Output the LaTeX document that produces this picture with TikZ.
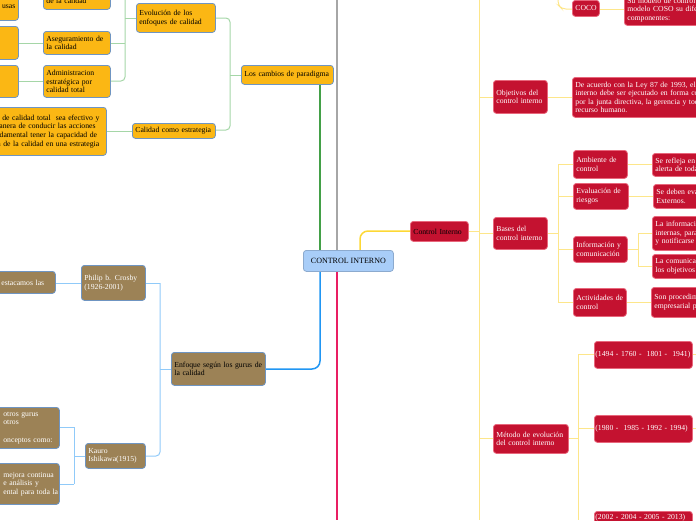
\documentclass[tikz,border=0pt]{standalone}
\usepackage{fontspec}
\setmainfont{Liberation Serif}
\definecolor{crim}{HTML}{C41230}
\definecolor{crimb}{HTML}{E8677C}
\definecolor{orng}{HTML}{FBB714}
\definecolor{brwn}{HTML}{9C8256}
\definecolor{bord}{HTML}{6F95C2}
\definecolor{lblue}{HTML}{A8CDF8}
\definecolor{ylw}{HTML}{FDE68A}
\definecolor{ylwd}{HTML}{FDD835}
\definecolor{lgrn}{HTML}{A5D6A7}
\definecolor{dgrn}{HTML}{43A047}
\definecolor{lbl}{HTML}{90CAF9}
\definecolor{mbl}{HTML}{2196F3}
\definecolor{pnk}{HTML}{E91E63}
\tikzset{
 bx/.style={rounded corners=3pt, anchor=north west, inner sep=3pt, align=left, font=\fontsize{7.7}{8.6}\selectfont, line width=0.8pt},
 red/.style={bx, fill=crim, draw=crimb, text=white},
 org/.style={bx, fill=orng, draw=bord, text=black},
 brn/.style={bx, fill=brwn, draw=bord, text=black},
 brw/.style={bx, fill=brwn, draw=bord, text=white},
 yl/.style={draw=ylw, line width=1pt, rounded corners=4pt},
 gl/.style={draw=lgrn, line width=1pt, rounded corners=4pt},
 bl/.style={draw=lbl, line width=1pt, rounded corners=4pt},
}
\newcommand{\bx}[7]{\node[#2, text width=#5pt, minimum height=#6pt] (#1) at (#3,#4) {#7};}
\begin{document}
\hyphenpenalty=10000 \exhyphenpenalty=10000
\begin{tikzpicture}[x=1pt,y=-1pt]
\useasboundingbox (0,0) rectangle (696,520);
\clip (0,0) rectangle (696,520);
% trunks
\draw[line width=1.5pt, gray!70] (337,0) -- (337,251);
\draw[line width=1.5pt, dgrn] (320,84) -- (320,251);
\draw[line width=1.5pt, pnk] (337,270) -- (337,520);
\draw[line width=1.5pt, mbl, rounded corners=8pt] (320,270) -- (320,369) -- (265,369);
\draw[line width=1.5pt, ylwd, rounded corners=8pt] (360,251) -- (360,231) -- (410,231);
% right branch lines
\draw[yl] (468,231) -- (479,231);
\draw[yl] (479,0) -- (479,520);
\draw[yl] (479,97) -- (493,97);
\draw[yl] (479,233) -- (493,233);
\draw[yl] (479,438) -- (493,438);
\draw[yl] (558,-20) -- (558,5) -- (562,9) -- (572,9);
\draw[yl] (599,9) -- (624,9);
\draw[yl] (547,97) -- (572,97);
\draw[yl] (547,233) -- (558,233);
\draw[yl] (558,164) -- (558,302);
\foreach \y in {164,196,249,302} \draw[yl] (558,\y) -- (573,\y);
\draw[yl] (627,164) -- (652,164);
\draw[yl] (628,196) -- (653,196);
\draw[yl] (626,302) -- (651,302);
\draw[yl] (627,249) -- (638,249);
\draw[yl] (638,233) -- (638,266);
\draw[yl] (638,233) -- (652,233);
\draw[yl] (638,266) -- (652,266);
\draw[yl] (568,438) -- (578,438);
\draw[yl] (578,354) -- (578,520);
\draw[yl] (578,354) -- (594,354);
\draw[yl] (578,428) -- (594,428);
\draw[yl] (690,354) -- (696,354);
\draw[yl] (690,428) -- (696,428);
% left green
\draw[gl] (215,18) -- (230,18) -- (230,130) -- (215,130);
\draw[gl] (230,75) -- (241,75);
\draw[gl] (136,18) -- (125,18);
\draw[gl] (125,-10) -- (125,81) -- (110,81);
\draw[gl] (125,43) -- (110,43);
\draw[gl] (43,43) -- (18,43);
\draw[gl] (43,81) -- (18,81);
\draw[gl] (132,131) -- (106,131);
% left blue
\draw[bl] (171,369) -- (160,369);
\draw[bl] (160,283) -- (145,283);
\draw[bl] (160,283) -- (160,456) -- (145,456);
\draw[bl] (81,283) -- (55,283);
\draw[bl] (85,456) -- (74,456);
\draw[bl] (74,427) -- (74,484);
\draw[bl] (74,427) -- (59,427);
\draw[bl] (74,484) -- (59,484);
% center
\node[bx, fill=lblue, draw=bord!80, text=black, minimum width=90pt, minimum height=21pt, align=center, font=\fontsize{8}{9}\selectfont] (root) at (303,250) {CONTROL INTERNO};
\bx{ci}{red,text=black}{410}{221}{52}{20}{Control Interno}
\bx{obj}{red}{493}{80}{48}{33}{Objetivos del control interno}
\bx{ley}{red}{572}{77}{190}{40}{De acuerdo con la Ley 87 de 1993, el control\\interno debe ser ejecutado en forma conjunta\\por la junta directiva, la gerencia y todo el\\recurso humano.}
\bx{coco}{red}{572}{0}{21}{16}{COCO}
\bx{cocot}{red}{624}{-6}{140}{31}{Su modelo de control interno\\modelo COSO su diferentes\\componentes:}
\bx{bases}{red}{493}{217}{48}{32}{Bases del control interno}
\bx{amb}{red}{573}{150}{48}{28}{Ambiente de control}
\bx{ambt}{red}{652}{153}{120}{23}{Se refleja en la actitud\\alerta de toda la entidad}
\bx{eval}{red}{573}{183}{49}{26}{Evaluación de riesgos}
\bx{evalt}{red}{653}{184}{120}{24}{Se deben evaluar Internos y\\Externos.}
\bx{info}{red}{573}{236}{48}{26}{Información y comunicación}
\bx{infot}{red}{652}{216}{120}{34}{La información debe ser\\internas, para que pueda\\y notificarse}
\bx{comt}{red}{652}{254}{120}{24}{La comunicación debe\\los objetivos}
\bx{act}{red}{573}{288}{47}{28}{Actividades de control}
\bx{actt}{red}{651}{287}{120}{30}{Son procedimientos\\empresarial para}
\bx{met}{red}{493}{424}{69}{29}{Método de evolución del control interno}
\bx{p1}{red, inner xsep=1pt}{594}{341}{96}{27}{(1494 - 1760 -\ \ 1801 -\ \ 1941)}
\bx{p2}{red, inner xsep=1pt}{594}{415}{96}{27}{(1980 -\ \ 1985 - 1992 - 1994)}
\node[red, inner xsep=1pt, text width=96pt, minimum height=27pt, anchor=north west, text depth=16pt] (p3) at (594,511) {(2002 - 2004 - 2005 - 2013)};
% orange
\bx{camb}{org}{241}{65}{86}{19}{Los cambios de paradigma}
\bx{evol}{org}{136}{3}{73}{29}{Evolución de los enfoques de calidad}
\bx{cal}{org}{132}{123}{77}{15}{Calidad como estrategia}
\bx{calt}{org}{-14}{107}{114}{48}{\hspace*{13pt}de calidad total\ \ sea efectivo y\\\hspace*{4pt}manera de conducir las acciones\\ fundamental tener la capacidad de\\\hspace*{8pt}a de la calidad en una estrategia}
\bx{dlc}{org}{43}{-8}{61}{17}{de la calidad}
\bx{ase}{org}{43}{31}{61}{23}{Aseguramiento de la calidad}
\bx{adm}{org}{43}{65}{61}{32}{Administracion estratégica por calidad total}
\bx{l1}{org}{-30}{-8}{42}{28}{\hfill usas}
\bx{l2}{org}{-30}{26}{42}{33}{}
\bx{l3}{org}{-30}{65}{42}{32}{}
% brown
\bx{enf}{brn}{171}{352}{88}{33}{Enfoque según los gurus de la calidad}
\bx{cros}{brw}{81}{265}{58}{35}{Philip b. Crosby (1926-2001)}
\bx{crost}{brw}{-40}{271}{89}{22}{\hspace*{38pt}estacamos las}
\bx{ish}{brw}{85}{443}{54}{25}{Kauro Ishikawa(1915)}
\bx{isht}{brw}{-40}{407}{93}{41}{\hspace*{40pt}otros gurus\\\hspace*{40pt}otros\\\mbox{}\\\hspace*{40pt}onceptos como:}
\bx{isht2}{brw}{-40}{463}{93}{41}{\hspace*{40pt}mejora continua\\\hspace*{40pt}e análisis y\\\hspace*{40pt}\mbox{ental para toda la}}
\end{tikzpicture}
\end{document}
